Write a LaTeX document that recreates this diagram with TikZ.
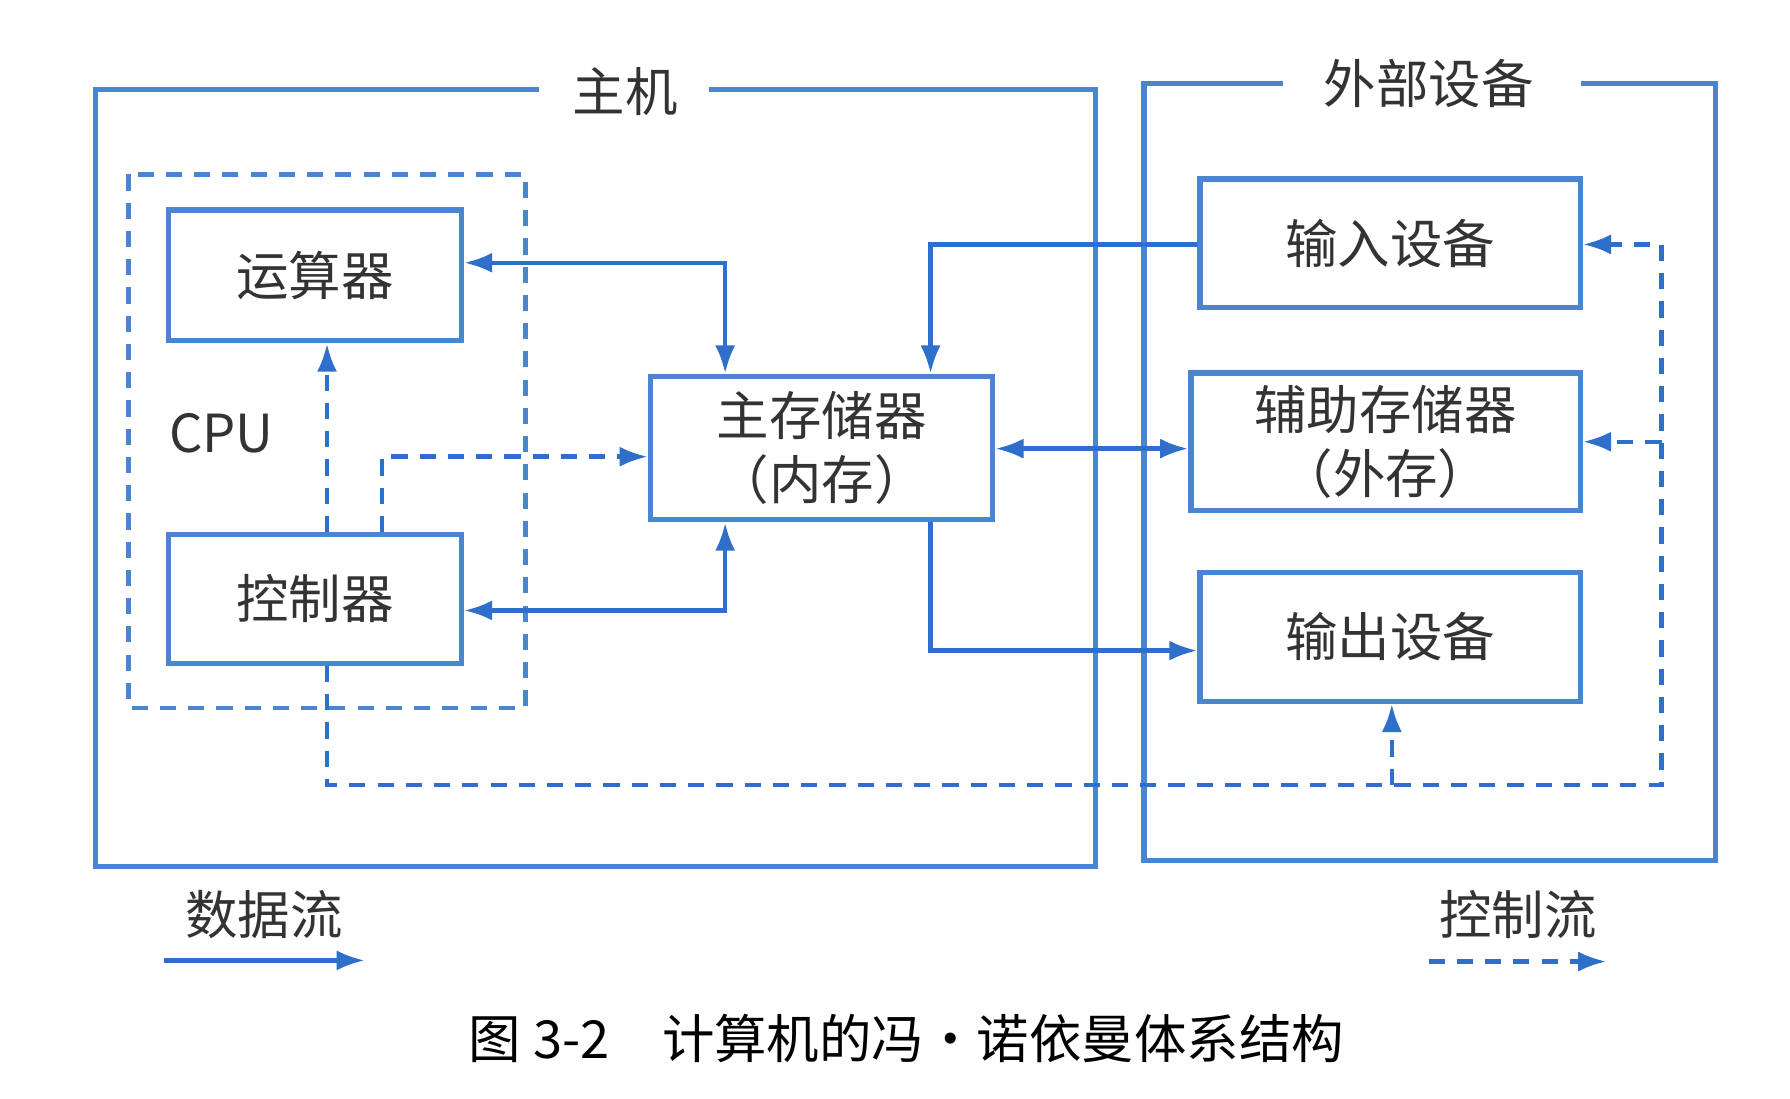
\documentclass[tikz,border=0pt]{standalone}
\usepackage{fontspec}
\setmainfont{Noto Sans CJK SC}
\usetikzlibrary{arrows.meta}
\definecolor{bx}{HTML}{4A86D0}
\definecolor{ln}{HTML}{2F6FCC}
\definecolor{tx}{HTML}{333333}
\begin{document}
\begin{tikzpicture}[x=0.01cm,y=-0.01cm,
  box/.style={draw=bx,line width=1.3pt,fill=white,text=tx,font=\fontsize{13}{16}\selectfont,align=center,inner sep=0pt},
  frame/.style={draw=bx,line width=1.3pt},
  data/.style={draw=ln,line width=1.1pt,-{Latex[length=7pt,width=5pt]}},
  both/.style={data,{Latex[length=7pt,width=5pt]}-{Latex[length=7pt,width=5pt]}},
  ctrl/.style={draw=ln,line width=1.1pt,dashed,dash pattern=on 4pt off 3pt},
  ctrla/.style={ctrl,-{Latex[length=7pt,width=5pt]}},
  lbl/.style={text=tx,font=\fontsize{13}{16}\selectfont,inner sep=0pt}]
\useasboundingbox (0,0) rectangle (1560,957);
% frames
\draw[frame] (470,78) -- (83,78) -- (83,755) -- (955,755) -- (955,78) -- (618,78);
\node[lbl] (host) at (545,80) {主机};
\draw[frame] (1118,73) -- (997,73) -- (997,750) -- (1495,750) -- (1495,73) -- (1378,73);
\node[lbl] (ext) at (1245,73) {外部设备};
\draw[ctrl,draw=bx] (112,152) rectangle (458,617);
\node[lbl] (cpu) at (193,378) {CPU};
% boxes
\node[box,minimum width=2.55cm,minimum height=1.14cm] (alu) at (274.5,240) {运算器};
\node[box,minimum width=2.55cm,minimum height=1.12cm] (cu) at (274.5,522) {控制器};
\node[box,minimum width=2.98cm,minimum height=1.25cm] (mem) at (716,390.5) {主存储器\\（内存）};
\node[box,minimum width=3.31cm,minimum height=1.12cm] (in) at (1211.5,212) {输入设备};
\node[box,minimum width=3.39cm,minimum height=1.20cm] (aux) at (1207.5,385) {辅助存储器\\（外存）};
\node[box,minimum width=3.31cm,minimum height=1.12cm] (out) at (1211.5,555) {输出设备};
% helper coordinates
\coordinate (x632) at (632,0); \coordinate (x811) at (811,0);
\coordinate (x285) at (285,0); \coordinate (x333) at (333,0);
\coordinate (x1213) at (1213,0);
\coordinate (y229) at (0,229); \coordinate (y532) at (0,532);
\coordinate (y213) at (0,213); \coordinate (y391) at (0,391);
\coordinate (y567) at (0,567); \coordinate (y398) at (0,398);
\coordinate (y385) at (0,385);
% data flow
\draw[both] (alu.east |- y229) -- (632,229) -- (mem.north -| x632);
\draw[both] (cu.east |- y532) -- (632,532) -- (mem.south -| x632);
\draw[data] (in.west |- y213) -- (811,213) -- (mem.north -| x811);
\draw[both] (mem.east |- y391) -- (aux.west |- y391);
\draw[data] (mem.south -| x811) -- (811,567) -- (out.west |- y567);
% control flow
\draw[ctrla] (cu.north -| x285) -- (alu.south -| x285);
\draw[ctrla] (cu.north -| x333) -- (333,398) -- (mem.west |- y398);
\coordinate (c1) at (1448,684);
\draw[ctrla] (cu.south -| x285) -- (285,684) -- (c1) -- (1448,213) -- (in.east |- y213);
\draw[ctrla] (1448,385) -- (aux.east |- y385);
\draw[ctrla] (1213,684) -- (out.south -| x1213);
% legend
\node[lbl] (ld) at (230,797) {数据流};
\coordinate (d1) at (143,837); \coordinate (d2) at (318,837);
\draw[data] (d1) -- (d2);
\node[lbl] (lc) at (1323,797) {控制流};
\coordinate (e1) at (1245,838); \coordinate (e2) at (1400,838);
\draw[ctrla] (e1) -- (e2);
\node[text=black,font=\fontsize{13}{16}\selectfont,inner sep=0pt] (cap) at (790,905) {图 3-2\quad 计算机的冯・诺依曼体系结构};
\end{tikzpicture}
\end{document}
